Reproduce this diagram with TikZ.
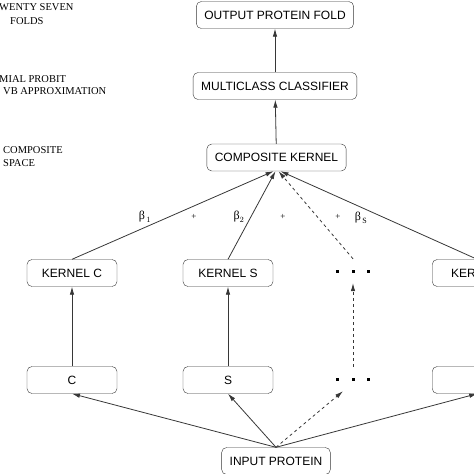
\documentclass[tikz,border=0pt]{standalone}
\usepackage{fontspec}
\setmainfont{Liberation Serif}
\newfontfamily\boxfont{Liberation Sans}
\usepackage{amsmath}
\usetikzlibrary{arrows.meta,positioning,calc}
\definecolor{linegray}{RGB}{55,55,55}
\newcommand\dotsq{\rule{3pt}{3pt}}

\begin{document}
\begin{tikzpicture}[x=1pt, y=-1pt, >={Latex[length=8pt,width=4.5pt]},
	procbox/.style={draw=linegray, rounded corners=5pt, minimum height=27pt, inner xsep=8pt, inner ysep=0pt, font=\boxfont\fontsize{12}{14}\selectfont},
	kernbox/.style={procbox, minimum width=90pt},
	dotnode/.style={draw=none, minimum width=90pt, minimum height=24pt, inner sep=0pt},
	flowLine/.style={line width=0.8pt, color=linegray},
	sidetext/.style={anchor=west, inner sep=0pt, font=\fontsize{10.5}{12}\selectfont},
	wnode/.style={inner sep=0pt, font=\fontsize{12}{14}\selectfont}
	]
	\useasboundingbox (0,0) rectangle (474,474);

	\node[sidetext] (t1a) at (-1,7) {WENTY SEVEN};
	\node[sidetext] (t1b) at (10,21) {FOLDS};
	\node[sidetext] (t2a) at (-1,79) {MIAL PROBIT};
	\node[sidetext] (t2b) at (3,91) {VB APPROXIMATION};
	\node[sidetext] (t3a) at (3,150) {COMPOSITE};
	\node[sidetext] (t3b) at (3,163) {SPACE};

	\node[procbox] (outfold) at (275,15) {OUTPUT PROTEIN FOLD};
	\node[procbox] (multi) at (275,86) {MULTICLASS CLASSIFIER};
	\node[procbox] (comp) at (276.5,157.5) {COMPOSITE KERNEL};

	\node[kernbox] (kernC) at (72,273) {KERNEL C};
	\node[kernbox] (kernS) at (228,273) {KERNEL S};
	\node[dotnode] (kernD) at (353,271) {\dotsq\hspace{12.5pt}\dotsq\hspace{12.5pt}\dotsq};
	\node[kernbox, anchor=west, inner xsep=19pt, text width=52pt, align=left] (kernR) at (432,273) {KER};

	\node[kernbox] (featC) at (72,380) {C};
	\node[kernbox] (featS) at (228,380) {S};
	\node[dotnode] (featD) at (353,379) {\dotsq\hspace{12.5pt}\dotsq\hspace{12.5pt}\dotsq};
	\node[kernbox, anchor=west] (featR) at (432,380) {};

	\node[procbox] (inp) at (276,461) {INPUT PROTEIN};

	\draw [flowLine, ->] (comp) -- (multi);
	\draw [flowLine, ->] (multi) -- (outfold);

	\draw [flowLine, ->] (kernC.north) -- ([xshift=-3pt]comp.south);
	\draw [flowLine, ->] (kernS.north) -- ([xshift=-1pt]comp.south);
	\draw [flowLine, ->, dashed] (kernD.north) -- ([xshift=2pt]comp.south);
	\draw [flowLine, ->] (kernR.north) -- ([xshift=4pt]comp.south);

	\draw [flowLine, ->] (featC) -- (kernC);
	\draw [flowLine, ->] (featS) -- (kernS);
	\draw [flowLine, ->, dashed] (featD) -- (kernD);

	\draw [flowLine, ->] (inp.north) -- (featC.south);
	\draw [flowLine, ->] (inp.north) -- (featS.south);
	\draw [flowLine, ->, dashed] (inp.north) -- ([xshift=-10pt]featD.south);
	\draw [flowLine, ->] (inp.north) -- (featR.south);

	\node[wnode] (b1) at (145,217) {$\text{β}_{\,1}$};
	\node[wnode, font=\fontsize{9}{10}\selectfont] (p1) at (194,217) {+};
	\node[wnode] (b2) at (239,217) {$\text{β}_{2}$};
	\node[wnode, font=\fontsize{9}{10}\selectfont] (p2) at (283,217) {+};
	\node[wnode, font=\fontsize{9}{10}\selectfont] (p3) at (338,217) {+};
	\node[wnode] (bS) at (361,218) {$\text{β}_{\,\mathrm{S}}$};
\end{tikzpicture}
\end{document}
